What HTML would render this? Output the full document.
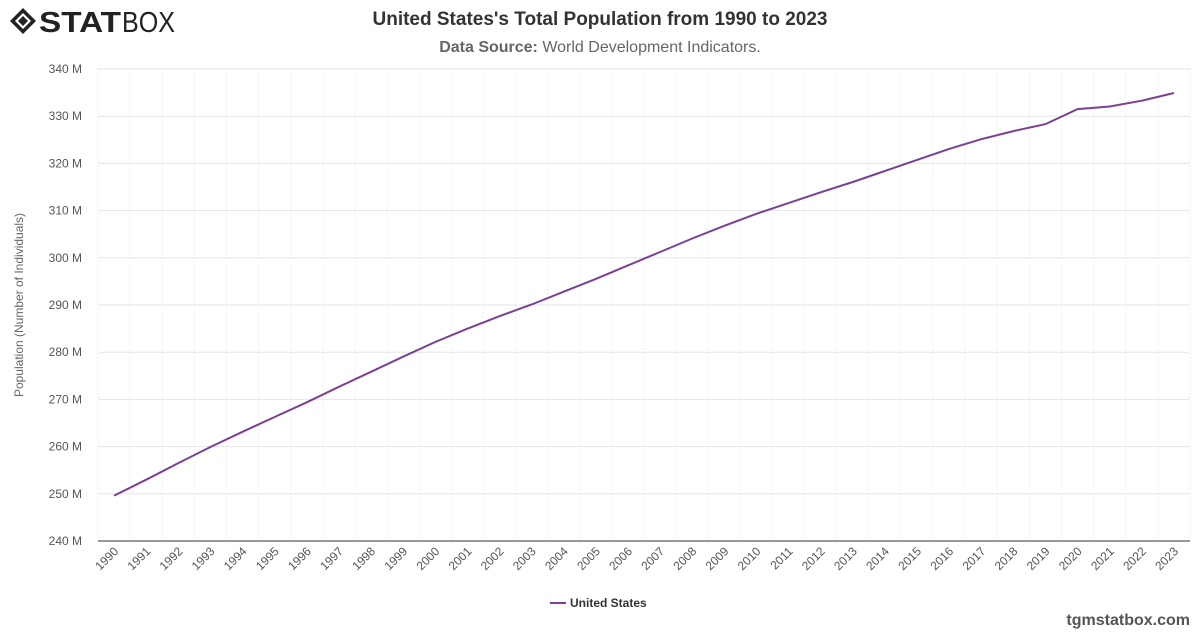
<!DOCTYPE html>
<html><head><meta charset="utf-8"><style>
body{margin:0;background:#fff;width:1200px;height:630px;overflow:hidden;font-family:"Liberation Sans",sans-serif}
</style></head><body>
<svg id="s" width="1200" height="630" xmlns="http://www.w3.org/2000/svg" font-family="Liberation Sans, sans-serif">
<g transform="translate(10,8)">
<path d="M13 0 L26 13 L13 26 L0 13 Z" fill="#222"/>
<path d="M13 5 L21 13 L13 21 L5 13 Z" fill="#fff"/>
<path d="M13 8 L18 13 L13 18 L8 13 Z" fill="#222"/>
</g>
<text x="39" y="32" font-size="29" font-weight="bold" fill="#222" textLength="82" lengthAdjust="spacingAndGlyphs">STAT</text>
<text x="122" y="32" font-size="29" fill="#222" textLength="53" lengthAdjust="spacingAndGlyphs">BOX</text>
<text x="600" y="25" text-anchor="middle" font-size="19" font-weight="bold" fill="#333">United States's Total Population from 1990 to 2023</text>
<text x="600" y="52" text-anchor="middle" font-size="16" fill="#666"><tspan font-weight="bold">Data Source:</tspan> World Development Indicators.</text>
<text transform="translate(23,305) rotate(-90)" text-anchor="middle" font-size="12" fill="#666">Population (Number of Individuals)</text>
<g id="g"></g>
<line x1="550" y1="603" x2="566" y2="603" stroke="#7b3f98" stroke-width="2"/>
<text x="570" y="607" font-size="12" font-weight="bold" fill="#333">United States</text>
<text x="1190" y="625" text-anchor="end" font-size="16" font-weight="bold" fill="#555">tgmstatbox.com</text>
</svg>
<script>
const d=[249.62,252.98,256.51,259.92,263.13,266.28,269.39,272.66,275.85,279.04,282.16,284.97,287.63,290.11,292.81,295.52,298.38,301.23,304.09,306.77,309.33,311.58,313.88,316.06,318.39,320.74,323.07,325.12,326.84,328.33,331.50,332.05,333.29,334.91];
const g=document.getElementById('g');let h='';
const X0=98,X1=1190,w=(X1-X0)/34;
const Y=v=>541-(v-240)*4.72;
for(let i=0;i<=10;i++){const y=Y(240+i*10);
 if(i>0)h+=`<line x1="${X0}" x2="${X1}" y1="${y}" y2="${y}" stroke="#e6e6e6"/>`;
 h+=`<text x="82" y="${y+4}" text-anchor="end" font-size="12" fill="#555">${240+i*10} M</text>`;}
for(let i=0;i<=34;i++){const x=X0+i*w;h+=`<line x1="${x}" x2="${x}" y1="69" y2="541" stroke="#e0e0e0" stroke-dasharray="1,3"/>`;}
h+=`<line x1="${X0}" x2="${X1}" y1="541" y2="541" stroke="#333"/>`;
let p='';d.forEach((v,i)=>{const x=X0+w/2+i*w;p+=(i?'L':'M')+x.toFixed(1)+' '+Y(v).toFixed(1);
 h+=`<text transform="translate(${x+5},552) rotate(-45)" text-anchor="end" font-size="12" fill="#555">${1990+i}</text>`;});
h+=`<path d="${p}" fill="none" stroke="#7b3f98" stroke-width="2"/>`;
g.innerHTML=h;
</script>
</body></html>
